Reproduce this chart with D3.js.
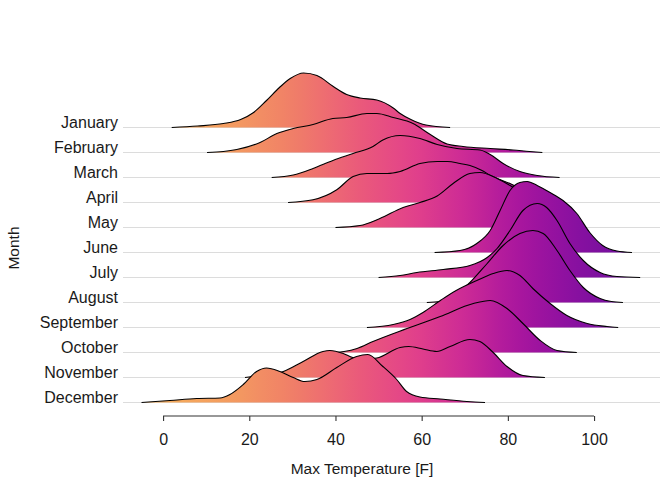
<!DOCTYPE html>
<html>
<head>
<meta charset="utf-8">
<script src="https://cdn.jsdelivr.net/npm/d3@7"></script>
<style>
  body { margin: 0; background: #fff; }
  text { font-family: "Liberation Sans", Arial, sans-serif; fill: #1a1a1a; }
</style>
</head>
<body>
<div id="chart-area"></div>
<script>
// ridgeline of daily max temperature by month

const months = ["January", "February", "March", "April", "May", "June",
  "July", "August", "September", "October", "November", "December"];

const xTicks = [0, 20, 40, 60, 80, 100];

// density outlines: [temperature F, height in row units]
const january = [[2,0],[8,0.06],[14,0.16],[18,0.32],[21,0.6],[24,1.08],[27,1.6],[29.5,1.96],
  [32.6,2.18],[35.7,2.08],[39.5,1.64],[42.6,1.32],[45.7,1.18],[49.6,1.1],[53.4,0.78],[55,0.56],
  [57.5,0.32],[61,0.1],[66.6,0]];
const february = [[10.2,0],[14,0.04],[17.1,0.12],[22.5,0.4],[26.4,0.76],[30.2,0.96],[34.8,1.12],
  [39.4,1.36],[42.6,1.4],[47.3,1.56],[49.6,1.56],[53.4,1.4],[58,1.16],[62,0.72],[65.9,0.34],
  [69.6,0.24],[75.9,0.16],[81.2,0.1],[85,0.04],[88,0]];
const march = [[25.2,0],[30.2,0.1],[34.8,0.36],[39.4,0.68],[44.1,0.96],[48.7,1.24],[51,1.5],
  [55,1.68],[59.6,1.56],[63.6,1.32],[68.2,1.16],[73.5,1.1],[75.9,0.92],[78.9,0.56],[82.8,0.24],
  [86.8,0.08],[92,0]];
const april = [[29,0],[34.8,0.11],[40.3,0.51],[44.1,1.04],[47.3,1.16],[52,1.16],[55,1.24],
  [59.6,1.56],[63.6,1.64],[66,1.64],[68.9,1.56],[71.2,1.48],[74,1.28],[76,1.08],[80.5,0.76],
  [84,0.48],[88,0.2],[91.5,0]];
const may = [[40,0],[45.7,0.08],[50.3,0.36],[55.7,0.8],[59.6,1.0],[63.6,1.26],[67.3,1.76],
  [71.2,2.16],[73.5,2.2],[77.5,1.96],[80.5,1.68],[84,1.28],[88,0.8],[92,0.4],[95,0.16],[98,0]];
const june = [[63,0],[68.9,0.08],[72.8,0.36],[75.9,0.88],[78.2,1.68],[80.5,2.48],[82.8,2.8],
  [84.5,2.84],[86.8,2.68],[89.8,2.4],[92.8,2.08],[96,1.56],[99,0.8],[102,0.28],[105.3,0.06],[108.8,0]];
const july = [[50,0],[55,0.08],[58.9,0.2],[65,0.32],[71.2,0.48],[75.2,0.8],[77.5,1.16],[80.5,1.88],
  [83.5,2.68],[86.8,2.96],[89,2.8],[91.4,2.28],[94.4,1.36],[97.5,0.68],[101.4,0.2],[105.3,0.04],[110.7,0]];
const august = [[61.2,0],[64.3,0.04],[68,0.32],[71.2,0.8],[75.2,1.56],[78.9,2.28],[82.8,2.76],
  [85.8,2.88],[88.2,2.76],[91.4,2.08],[94.4,1.28],[97.5,0.6],[101.4,0.16],[104,0.04],[106.7,0]];
const september = [[47.3,0],[53.4,0.12],[57.3,0.32],[60.3,0.6],[64.5,1.1],[68,1.48],[72.8,1.88],
  [76.6,2.16],[79.8,2.28],[82.8,2.08],[85.8,1.56],[89.8,0.96],[93.7,0.48],[98.4,0.16],[103,0.04],[105.6,0]];
const october = [[40,0],[42,0.04],[45,0.16],[48.7,0.44],[56.6,0.96],[64.3,1.44],[72,1.96],
  [75.9,2.08],[79.8,1.76],[83.5,1.16],[87.5,0.48],[91.4,0.08],[96,0]];
const november = [[19,0],[23,0.08],[27.9,0.24],[32.5,0.64],[37.1,1.04],[38.7,1.08],[41.8,0.96],
  [44,0.8],[47,0.74],[49.6,0.78],[55,1.2],[57,1.24],[60.3,1.14],[63.5,1.04],[66.6,1.24],[71.2,1.52],
  [73.5,1.44],[76.6,1.0],[79.8,0.44],[83.5,0.08],[88.6,0]];
const december = [[-5,0],[1.6,0.08],[7.8,0.16],[13.2,0.18],[15.5,0.32],[18.6,0.72],[21.7,1.24],
  [24,1.38],[27.1,1.24],[30.2,1.0],[32.9,0.84],[35.7,0.92],[40.3,1.4],[44.9,1.84],[47.5,1.92],
  [51,1.44],[54.2,0.92],[56.5,0.44],[59.6,0.22],[64.3,0.14],[70.5,0.04],[74.7,0]];

const ridges = [january, february, march, april, may, june,
  july, august, september, october, november, december];

const width = 672, height = 480;

const svg = d3.select("#chart-area")
  .append("svg")
    .attr("width", width)
    .attr("height", height);

const xScale = d3.scaleLinear()
  .domain([-9.3, 115.3])
  .range([123, 660]);

const yScale = d3.scalePoint()
  .domain(months)
  .range([127.5, 402.5]);

const hScale = d3.scaleLinear()
  .domain([0, 1])
  .range([0, yScale.step()]);

// fill colour follows temperature (orange -> magenta -> purple)
const colorScale = d3.scaleLinear()
  .domain([-5, 15, 30, 45, 58, 70, 82, 95, 110])
  .range(["#f6b15c", "#f49d5f", "#f07f68", "#eb5b7a", "#e2428a",
          "#cc2a96", "#aa169e", "#8a10a0", "#6c0f9e"])
  .interpolate(d3.interpolateRgb)
  .clamp(true);

const allX = ridges.flat().map(d => d[0]);
const xMin = d3.min(allX), xMax = d3.max(allX);

const grad = svg.append("defs").append("linearGradient")
    .attr("id", "temp-grad")
    .attr("gradientUnits", "userSpaceOnUse")
    .attr("x1", xScale(xMin)).attr("x2", xScale(xMax))
    .attr("y1", 0).attr("y2", 0);

grad.selectAll("stop")
  .data(d3.range(0, 1.0001, 0.04))
  .enter().append("stop")
    .attr("offset", d => d)
    .attr("stop-color", d => colorScale(xMin + d * (xMax - xMin)));

// grid lines
svg.append("g")
  .selectAll("line")
  .data(months)
  .enter().append("line")
    .attr("x1", xScale.range()[0])
    .attr("x2", xScale.range()[1])
    .attr("y1", d => yScale(d))
    .attr("y2", d => yScale(d))
    .attr("stroke", "#dcdcdc")
    .attr("stroke-width", 1.2);

// month labels
svg.append("g")
  .selectAll("text")
  .data(months)
  .enter().append("text")
    .attr("x", 118)
    .attr("y", d => yScale(d) + 0.5)
    .attr("text-anchor", "end")
    .style("font-size", "16px")
    .text(d => d);

// ridges, top row first so lower rows sit on top
const rows = svg.append("g");
ridges.forEach((data, i) => {
  const base = yScale(months[i]);
  const area = d3.area()
    .x(d => xScale(d[0]))
    .y0(base)
    .y1(d => base - hScale(d[1]))
    .curve(d3.curveMonotoneX);
  const line = d3.line()
    .x(d => xScale(d[0]))
    .y(d => base - hScale(d[1]))
    .curve(d3.curveMonotoneX);

  const g = rows.append("g").attr("class", "ridge");
  g.append("path")
    .datum(data)
    .attr("d", area)
    .attr("fill", "url(#temp-grad)");
  g.append("path")
    .datum(data)
    .attr("d", line)
    .attr("fill", "none")
    .attr("stroke", "#000")
    .attr("stroke-width", 1.1);
});

// x axis
const axisY = 416;
const xAxis = svg.append("g")
    .attr("class", "axis x-axis")
    .attr("transform", `translate(0,${axisY})`)
    .call(d3.axisBottom(xScale)
      .tickValues(xTicks)
      .tickSize(5)
      .tickPadding(13)
      .tickSizeOuter(0));

xAxis.select(".domain").remove();
xAxis.append("line")
    .attr("x1", xScale(xTicks[0]))
    .attr("x2", xScale(xTicks[xTicks.length - 1]))
    .attr("stroke", "#333")
    .attr("stroke-width", 1.1);
xAxis.selectAll(".tick line").attr("stroke", "#333").attr("stroke-width", 1.1);
xAxis.selectAll(".tick text")
    .style("font-size", "16px")
    .style("font-family", "'Liberation Sans', Arial, sans-serif")
    .attr("fill", "#1a1a1a");

svg.append("text")
    .attr("class", "axis-label")
    .attr("x", 362)
    .attr("y", 474)
    .attr("text-anchor", "middle")
    .style("font-size", "15.5px")
    .text("Max Temperature [F]");

svg.append("text")
    .attr("class", "axis-label")
    .attr("transform", "rotate(-90)")
    .attr("x", -248)
    .attr("y", 19)
    .attr("text-anchor", "middle")
    .style("font-size", "15.5px")
    .text("Month");
</script>
</body>
</html>
